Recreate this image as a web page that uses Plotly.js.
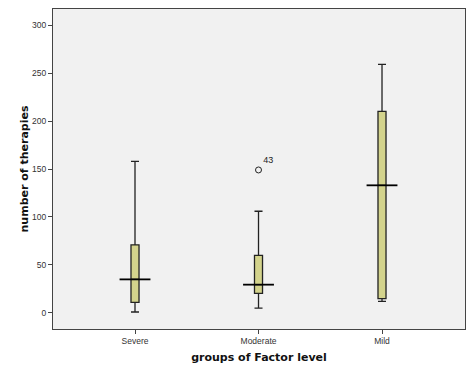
<!DOCTYPE html>
<html>
<head>
<meta charset="utf-8">
<script src="https://cdn.plot.ly/plotly-3.0.1.min.js"></script>
<style>html,body{margin:0;padding:0;background:#fff;}#chart{width:474px;height:373px;}</style>
</head>
<body>
<div id="chart"></div>
<script>
var categories = ["Severe", "Moderate", "Mild"];
var lowerWhisker = [1, 5, 12];
var q1Values = [11, 20.5, 15];
var medianValues = [35, 29.5, 133];
var q3Values = [71, 60, 210];
var upperWhisker = [158, 106, 259];
var outlierCategory = [1];
var outlierValues = [149];
var outlierLabels = ["43"];
var yTicks = [0, 50, 100, 150, 200, 250, 300];

var xpos = categories.map(function(c, i){ return i; });

var boxTrace = {
  type: 'box',
  x: xpos,
  q1: q1Values,
  median: medianValues,
  q3: q3Values,
  lowerfence: lowerWhisker,
  upperfence: upperWhisker,
  width: 0.065,
  whiskerwidth: 1,
  fillcolor: '#d3d38c',
  line: {color: '#222', width: 1.3},
  boxpoints: false,
  hoverinfo: 'skip',
  showlegend: false
};

var mx = [], my = [];
medianValues.forEach(function(m, i){
  mx.push(i - 0.125, i + 0.125, null);
  my.push(m, m, null);
});
var medianTrace = {
  type: 'scatter', mode: 'lines', x: mx, y: my,
  line: {color: '#000', width: 1.8}, hoverinfo: 'skip', showlegend: false
};

var outlierTrace = {
  type: 'scatter', mode: 'markers+text',
  x: outlierCategory, y: outlierValues, text: outlierLabels,
  textposition: 'top right',
  textfont: {family: 'Arial, Liberation Sans, sans-serif', size: 9, color: '#222'},
  marker: {symbol: 'circle-open', size: 6, color: '#222', line: {width: 1}},
  hoverinfo: 'skip', showlegend: false
};

var layout = {
  width: 474, height: 373,
  margin: {l: 53, r: 9, t: 9, b: 44},
  paper_bgcolor: '#ffffff',
  plot_bgcolor: '#f1f1f1',
  font: {family: 'Arial, Liberation Sans, sans-serif', color: '#333'},
  xaxis: {
    range: [-0.664, 2.672],
    tickmode: 'array', tickvals: xpos, ticktext: categories,
    ticks: 'outside', ticklen: 4, tickcolor: '#444',
    tickfont: {size: 8.5, color: '#333'},
    showgrid: false, zeroline: false,
    showline: true, linecolor: '#444', linewidth: 1, mirror: true,
    title: {text: 'groups of Factor level', font: {size: 11, color: '#111', family: 'DejaVu Sans, sans-serif', weight: 'bold'}, standoff: 8}
  },
  yaxis: {
    range: [-16.7, 316.7],
    tickmode: 'array', tickvals: yTicks,
    ticks: 'outside', ticklen: 4, tickcolor: '#444',
    tickfont: {size: 8.5, color: '#333'},
    showgrid: false, zeroline: false,
    showline: true, linecolor: '#444', linewidth: 1, mirror: true,
    title: {text: 'number of therapies', font: {size: 11, color: '#111', family: 'DejaVu Sans, sans-serif', weight: 'bold'}, standoff: 1}
  }
};

Plotly.newPlot('chart', [boxTrace, medianTrace, outlierTrace], layout, {staticPlot: true});
</script>
</body>
</html>
